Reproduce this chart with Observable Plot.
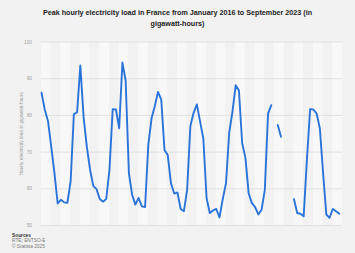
<!DOCTYPE html>
<html>
<head>
<meta charset="utf-8">
<script src="https://cdn.jsdelivr.net/npm/d3@7"></script>
<script src="https://cdn.jsdelivr.net/npm/@observablehq/plot@0.6"></script>
<style>
  html, body { margin: 0; padding: 0; background: #f2f2f2; }
  body { width: 355px; height: 253px; position: relative; overflow: hidden; font-family: "Liberation Sans", Arial, sans-serif; }
  #title { position: absolute; left: 0; top: 7px; width: 355px; text-align: center; font-weight: bold; font-size: 7.2px; line-height: 11px; color: #222; }
  #chart { position: absolute; left: 0; top: 32px; }
  #footer { position: absolute; left: 12px; top: 232.5px; font-size: 4.8px; line-height: 5.8px; color: #7a7a7a; }
  #footer b { color: #333; }
</style>
</head>
<body>
<div id="title">Peak hourly electricity load in France from January 2016 to September 2023 (in<br>gigawatt-hours)</div>
<div id="chart"></div>
<div id="footer"><b>Sources</b><br>RTE; ENTSO-E<br>© Statista 2025</div>
<script>
const monthNames = ["Jan","Feb","Mar","Apr","May","Jun","Jul","Aug","Sep","Oct","Nov","Dec"];
const years = [2016, 2017, 2018, 2019, 2020, 2021, 2022, 2023];
const months = years.flatMap(y => monthNames.map(m => `${m} ${y}`)).slice(0, 93);
const load = [
  86.2, 81.6, 78.5, 71.5, 64.3, 56.0, 57.0, 56.3, 56.2, 62.0, 80.3, 80.9,
  93.6, 79.6, 71.5, 65.2, 60.8, 59.9, 57.2, 56.5, 57.2, 65.2, 81.7, 81.6,
  76.5, 94.4, 89.5, 64.3, 58.4, 55.7, 57.5, 55.2, 55.0, 72.0, 79.2, 82.5,
  86.4, 84.3, 70.6, 69.2, 61.5, 58.7, 59.0, 54.5, 53.9, 59.8, 77.1, 80.7,
  83.0, 78.3, 73.7, 57.5, 53.4, 54.1, 54.5, 52.2, 57.2, 61.5, 75.3, 81.0,
  88.2, 86.8, 72.4, 68.5, 58.8, 56.1, 55.0, 53.0, 54.3, 59.7, 80.5, 82.8,
  null, 77.4, 74.2, null, null, null, 57.2, 53.4, 53.2, 52.5, 67.9, 81.7,
  81.6, 80.5, 76.5, 64.3, 53.0, 52.1, 54.5, 53.9, 53.2
];
const yTicks = [50, 60, 70, 80, 90, 100];
const yLabel = "Hourly electricity load in gigawatt-hours";

const data = months.map((m, i) => ({i, month: m, value: load[i] == null ? NaN : load[i]}));
const quarters = d3.range(Math.ceil(months.length / 3)).map(q => ({q, x1: q * 3, x2: q * 3 + 3}));

const chart = Plot.plot({
  width: 355,
  height: 200,
  marginLeft: 41,
  marginRight: 13,
  marginTop: 9.5,
  marginBottom: 7,
  style: {background: "transparent", fontFamily: "Liberation Sans, Arial, sans-serif"},
  x: {type: "linear", domain: [0, 93], axis: null},
  y: {domain: [50, 100], ticks: yTicks},
  marks: [
    Plot.rect(quarters, {x1: "x1", x2: "x2", y1: 50, y2: 100, fill: d => d.q % 2 === 0 ? "#f8f8f8" : "#f2f2f2"}),
    Plot.gridY(yTicks, {stroke: "#dcdcdc", strokeOpacity: 1, strokeWidth: 0.8}),
    Plot.axisY(yTicks, {tickSize: 0, tickPadding: 9.5, fontSize: 4.8, fill: "#a0a0a0", label: yLabel, labelAnchor: "center", labelOffset: 22, labelArrow: "none"}),
    Plot.line(data, {x: "i", y: "value", stroke: "#2a74d9", strokeWidth: 1.9, curve: "linear"})
  ]
});
document.getElementById("chart").append(chart);
</script>
</body>
</html>
